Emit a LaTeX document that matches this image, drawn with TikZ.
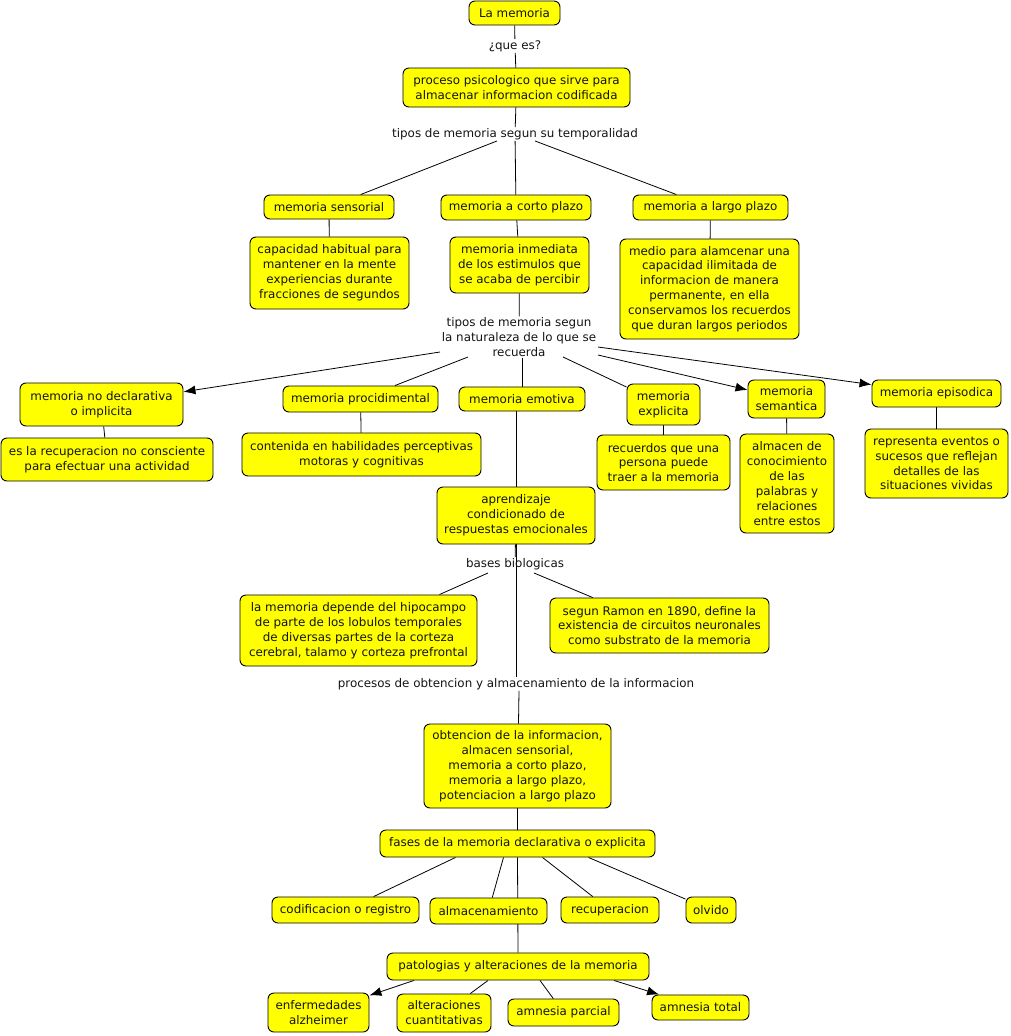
\documentclass[tikz,border=0pt]{standalone}
\usepackage{fontspec}
\setmainfont{DejaVu Sans}
\usetikzlibrary{arrows.meta,backgrounds}
\definecolor{boxyellow}{RGB}{255,255,0}
\definecolor{txt}{RGB}{20,20,20}
\tikzset{
  box/.style={draw=black, line width=0.9pt, fill=boxyellow, rounded corners=6pt,
    align=center, inner sep=1pt, text=txt, font=\fontsize{11.9}{14.9}\selectfont},
  lbl/.style={align=center, inner sep=1pt, text=txt, font=\fontsize{11.9}{14.9}\selectfont},
  link/.style={draw=black, line width=0.8pt},
  arr/.style={link, -{Latex[length=12pt,width=9pt]}},
}
\begin{document}
\begin{tikzpicture}[x=1pt,y=-1pt]
\useasboundingbox (0,0) rectangle (1011,1036);
% level 0
\node[box, minimum width=91pt, minimum height=24pt] (mem) at (514.5,13) {La memoria};
\node[lbl] (queEs) at (515,46) {¿que es?};
\node[box, minimum width=227pt, minimum height=39pt] (proceso) at (516.5,87.5) {proceso psicologico que sirve para\\almacenar informacion codificada};
\node[lbl] (tipTemp) at (515,134) {tipos de memoria segun su temporalidad};
% temporal types
\node[box, minimum width=130pt, minimum height=24pt] (sens) at (329,207) {memoria sensorial};
\node[box, minimum width=150pt, minimum height=25pt] (corto) at (516,207.5) {memoria a corto plazo};
\node[box, minimum width=155pt, minimum height=25pt] (largo) at (710.5,207.5) {memoria a largo plazo};
\node[box, minimum width=159pt, minimum height=72pt] (capac) at (329.5,273) {capacidad habitual para\\mantener en la mente\\experiencias durante\\fracciones de segundos};
\node[box, minimum width=139pt, minimum height=56pt] (inmed) at (519.5,265) {memoria inmediata\\de los estimulos que\\se acaba de percibir};
\node[box, minimum width=179pt, minimum height=100pt] (medio) at (709.5,289) {medio para alamcenar una\\capacidad ilimitada de\\informacion de manera\\permanente, en ella\\conservamos los recuerdos\\que duran largos periodos};
\node[lbl] (tipNat) at (519,337) {tipos de memoria segun\\la naturaleza de lo que se\\recuerda};
% nature types
\node[box, minimum width=163pt, minimum height=43pt] (nodecl) at (101.5,404.5) {memoria no declarativa\\o implicita};
\node[box, minimum width=212pt, minimum height=43pt] (esla) at (107,459.5) {es la recuperacion no consciente\\para efectuar una actividad};
\node[box, minimum width=155pt, minimum height=26pt] (proc) at (360.5,399) {memoria procidimental};
\node[box, minimum width=239pt, minimum height=43pt] (conten) at (361.5,454.5) {contenida en habilidades perceptivas\\motoras y cognitivas};
\node[box, minimum width=126pt, minimum height=24pt] (emot) at (522,399) {memoria emotiva};
\node[box, minimum width=73pt, minimum height=41pt] (explic) at (663.5,404.5) {memoria\\explicita};
\node[box, minimum width=133pt, minimum height=55pt] (recuer) at (663.5,462.5) {recuerdos que una\\persona puede\\traer a la memoria};
\node[box, minimum width=77pt, minimum height=38pt] (seman) at (786.5,399) {memoria\\semantica};
\node[box, minimum width=94pt, minimum height=99pt] (almac) at (787,483.5) {almacen de\\conocimiento\\de las\\palabras y\\relaciones\\entre estos};
\node[box, minimum width=129pt, minimum height=27pt] (episod) at (936.5,393.5) {memoria episodica};
\node[box, minimum width=143pt, minimum height=69pt] (repres) at (936.5,463.5) {representa eventos o\\sucesos que reflejan\\detalles de las\\situaciones vividas};
% emotive branch
\node[box, minimum width=158pt, minimum height=57pt] (aprend) at (516,515.5) {aprendizaje\\condicionado de\\respuestas emocionales};
\node[lbl] (bases) at (515,564) {bases biologicas};
\node[box, minimum width=237pt, minimum height=71pt] (depende) at (358.5,630.5) {la memoria depende del hipocampo\\de parte de los lobulos temporales\\de diversas partes de la corteza\\cerebral, talamo y corteza prefrontal};
\node[box, minimum width=219pt, minimum height=55pt] (ramon) at (659.5,625.5) {segun Ramon en 1890, define la\\existencia de circuitos neuronales\\como substrato de la memoria};
\node[lbl] (procesos) at (516,684) {procesos de obtencion y almacenamiento de la informacion};
\node[box, minimum width=187pt, minimum height=84pt] (obten) at (517.5,766) {obtencion de la informacion,\\almacen sensorial,\\memoria a corto plazo,\\memoria a largo plazo,\\potenciacion a largo plazo};
\node[box, minimum width=275pt, minimum height=27pt] (fases) at (517.5,843.5) {fases de la memoria declarativa o explicita};
\node[box, minimum width=147pt, minimum height=26pt] (codif) at (345.5,910) {codificacion o registro};
\node[box, minimum width=117pt, minimum height=26pt] (almacen) at (488.5,911) {almacenamiento};
\node[box, minimum width=98pt, minimum height=26pt] (recup) at (610,910) {recuperacion};
\node[box, minimum width=50pt, minimum height=26pt] (olvido) at (711,910) {olvido};
\node[box, minimum width=262pt, minimum height=27pt] (patol) at (518,966.5) {patologias y alteraciones de la memoria};
\node[box, minimum width=101pt, minimum height=39pt] (enferm) at (318.5,1012.5) {enfermedades\\alzheimer};
\node[box, minimum width=94pt, minimum height=38pt] (altera) at (444,1013) {alteraciones\\cuantitativas};
\node[box, minimum width=111pt, minimum height=27pt] (parcial) at (563.5,1012.5) {amnesia parcial};
\node[box, minimum width=97pt, minimum height=25pt] (total) at (700.5,1007.5) {amnesia total};

\begin{pgfonlayer}{background}
\draw[link] (mem) -- (queEs);
\draw[link] (queEs) -- (proceso);
\draw[link] (proceso) -- (tipTemp);
\draw[link] ([xshift=-18pt]tipTemp.south) -- (sens);
\draw[link] (tipTemp) -- (corto);
\draw[link] ([xshift=20pt]tipTemp.south) -- (largo);
\draw[link] (sens) -- (capac);
\draw[link] (corto) -- (inmed);
\draw[link] (largo) -- (medio);
\draw[link] (inmed) -- (tipNat);
\draw[arr] ([xshift=-79pt,yshift=-15pt]tipNat.center) -- (nodecl);
\draw[link] ([xshift=-51pt,yshift=-20pt]tipNat.center) -- (proc);
\draw[link] ([xshift=3pt]tipNat.south) -- (emot);
\draw[link] ([xshift=44pt,yshift=-20pt]tipNat.center) -- (explic);
\draw[arr] ([xshift=79pt,yshift=-18pt]tipNat.center) -- (seman);
\draw[arr] ([xshift=79pt,yshift=-10pt]tipNat.center) -- (episod);
\draw[link] (nodecl) -- (esla);
\draw[link] (proc) -- (conten);
\draw[link] (explic) -- (recuer);
\draw[link] (seman) -- (almac);
\draw[link] (episod) -- (repres);
\draw[link] (emot.south -| aprend.north) -- (aprend.north);
\draw[link] (aprend) -- (bases);
\draw[link] ([xshift=-27pt,yshift=-9pt]bases.center) -- (depende);
\draw[link] ([xshift=19pt,yshift=-9pt]bases.center) -- (ramon);
\draw[link] (aprend.south) -- (procesos.north -| aprend.south);
\draw[link] ([xshift=3pt]procesos.south) -- ([xshift=1pt]obten.north);
\draw[link] (obten) -- (fases);
\draw[link] ([xshift=-62pt]fases.south) -- (codif);
\draw[link] ([xshift=-14pt]fases.south) -- (almacen);
\draw[link] ([xshift=25pt]fases.south) -- (recup);
\draw[link] ([xshift=71pt]fases.south) -- (olvido);
\draw[link] (fases.south) -- (patol.north);
\draw[arr] ([xshift=-104pt]patol.south) -- (enferm);
\draw[link] ([xshift=-30pt]patol.south) -- (altera);
\draw[link] ([xshift=22pt]patol.south) -- (parcial);
\draw[arr] ([xshift=96pt]patol.south) -- (total);
\end{pgfonlayer}
\end{tikzpicture}
\end{document}
